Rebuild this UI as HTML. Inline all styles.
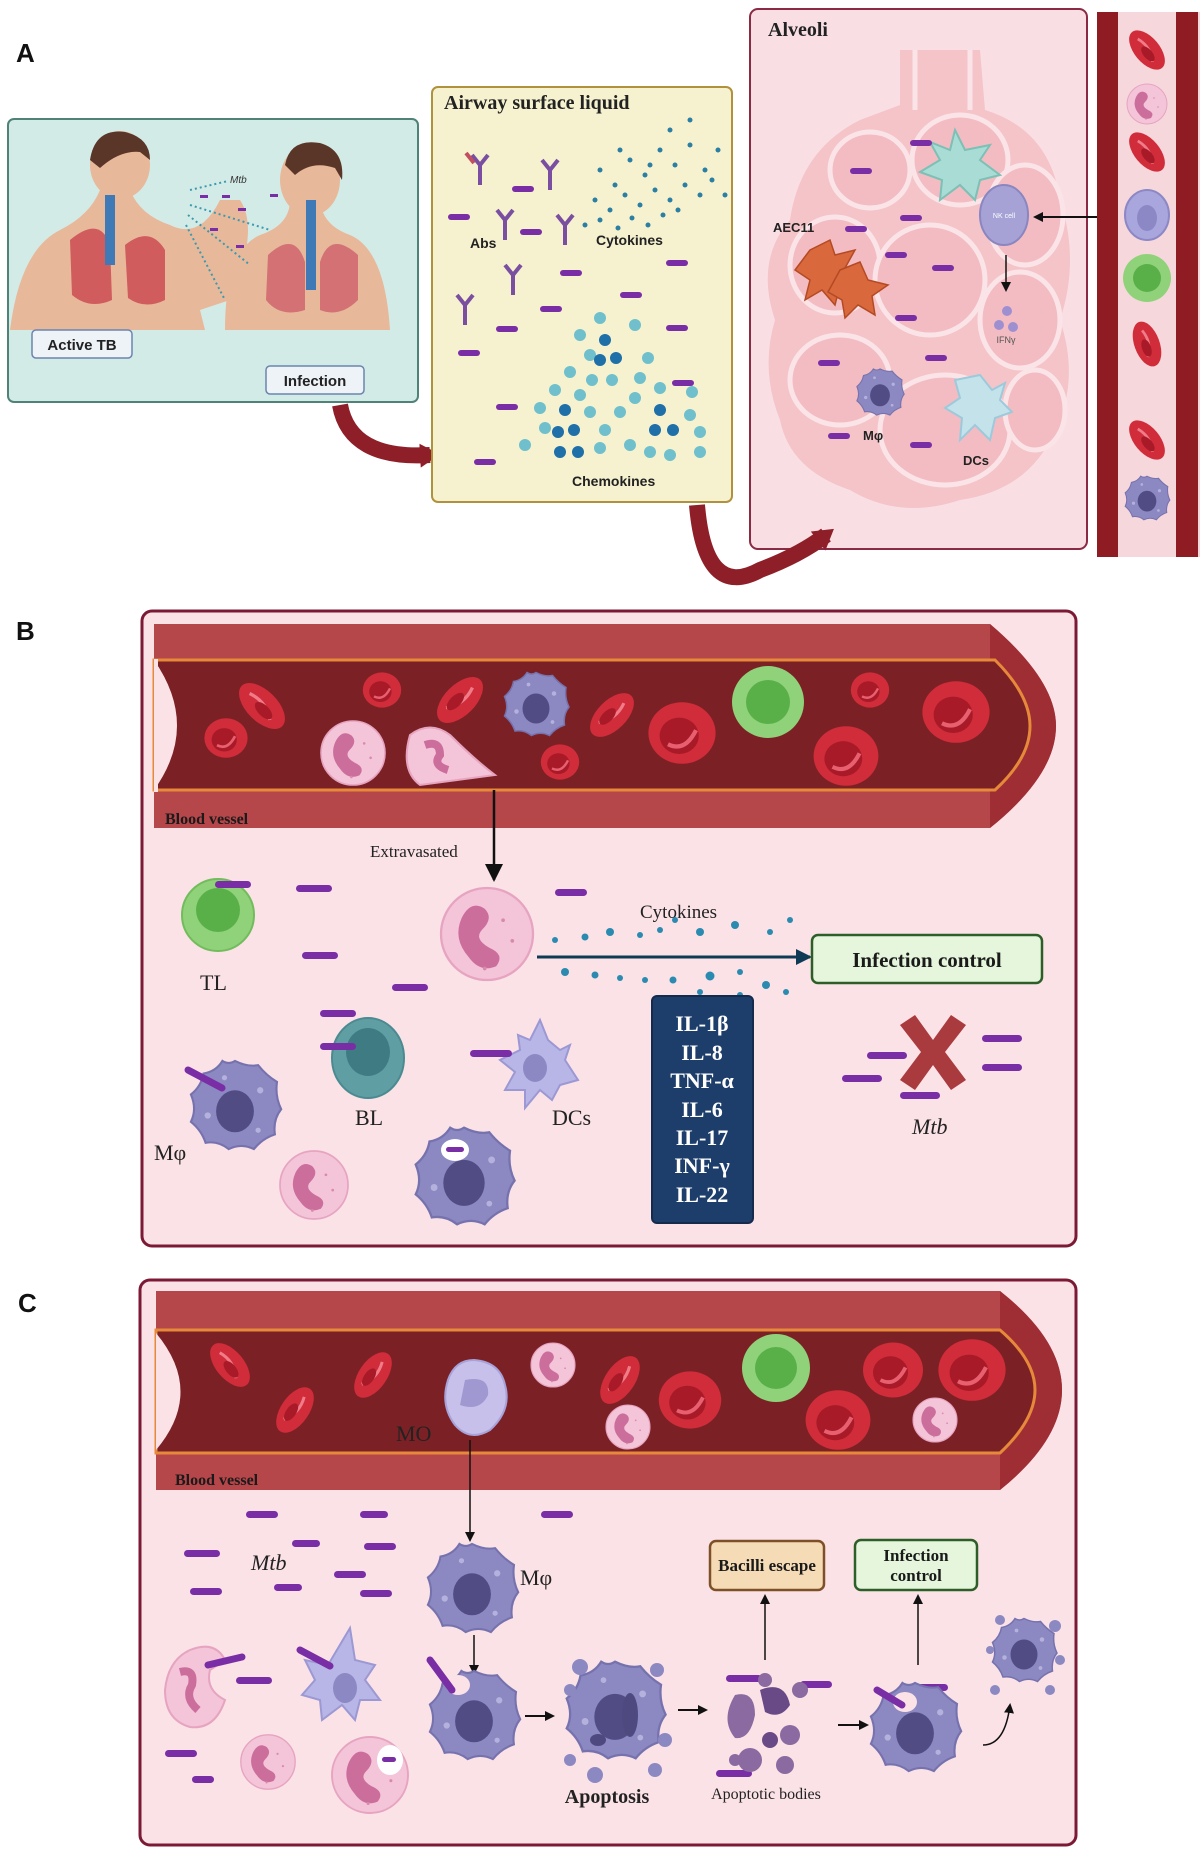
<!DOCTYPE html>
<html><head><meta charset="utf-8"><style>
html,body{margin:0;padding:0;background:#fff;}
svg{display:block;}
.sf{font-family:"Liberation Serif",serif;}
.ss{font-family:"Liberation Sans",sans-serif;}
</style></head><body>
<svg width="1200" height="1855" viewBox="0 0 1200 1855" xmlns="http://www.w3.org/2000/svg">
<defs>
<g id="rbc"><ellipse rx="24" ry="22" fill="#d02c3a"/><ellipse cx="-2" cy="2" rx="14" ry="13" fill="#a91a28"/><path d="M-10,8 Q2,14 10,-2" stroke="#e86070" stroke-width="3" fill="none"/></g>
<g id="rbcs"><ellipse rx="14" ry="26" fill="#d02c3a"/><path d="M-4,14 Q6,0 0,-16" stroke="#ef7c88" stroke-width="3" fill="none"/><ellipse cx="-2" cy="4" rx="5" ry="10" fill="#a91a28"/></g>
<g id="neut"><circle r="40" fill="#f4c4d8" stroke="#e6a4c0" stroke-width="2"/><path d="M-22,-14 Q-14,-30 -2,-22 Q6,-14 -4,-4 Q-12,4 2,12 Q16,18 8,28 Q-6,34 -16,20 Q-30,4 -22,-14Z" fill="#cc6e9c"/><circle cx="14" cy="-12" r="1.6" fill="#d88aaa"/><circle cx="22" cy="6" r="1.6" fill="#d88aaa"/><circle cx="-2" cy="30" r="1.6" fill="#d88aaa"/></g>
<g id="mac"><path d="M0,-42 Q12,-36 22,-38 Q30,-28 40,-22 Q38,-8 44,4 Q36,14 38,28 Q26,32 18,42 Q6,36 -6,42 Q-16,34 -28,36 Q-32,24 -42,16 Q-36,4 -42,-10 Q-32,-18 -30,-30 Q-18,-32 -12,-42 Q-6,-38 0,-42Z" fill="#8c88c2" stroke="#7672ae" stroke-width="2"/><ellipse cx="0" cy="6" rx="18" ry="20" fill="#524c84"/><circle cx="24" cy="-14" r="3" fill="#b4b2dc"/><circle cx="-26" cy="10" r="3" fill="#b4b2dc"/><circle cx="22" cy="24" r="2.5" fill="#b4b2dc"/><circle cx="-10" cy="-26" r="2.5" fill="#b4b2dc"/></g>
<marker id="ah" markerWidth="10" markerHeight="10" refX="8" refY="5" orient="auto" markerUnits="userSpaceOnUse"><path d="M0,0 L10,5 L0,10Z" fill="#111"/></marker>
<marker id="ahb" markerWidth="18" markerHeight="18" refX="16" refY="9" orient="auto" markerUnits="userSpaceOnUse"><path d="M0,0 L18,9 L0,18Z" fill="#111"/></marker>
<marker id="ahn" markerWidth="16" markerHeight="16" refX="14" refY="8" orient="auto" markerUnits="userSpaceOnUse"><path d="M0,0 L16,8 L0,16Z" fill="#0e3a56"/></marker>
<marker id="ahr" markerWidth="24" markerHeight="24" refX="10" refY="12" orient="auto" markerUnits="userSpaceOnUse"><path d="M0,0 L20,12 L0,24Z" fill="#8e1f28"/></marker>
</defs>

<!-- ================= PANEL A ================= -->
<text x="16" y="62" class="ss" font-size="26" font-weight="bold" fill="#111">A</text>

<rect x="8" y="119" width="410" height="283" rx="6" fill="#d3ebe7" stroke="#4f8378" stroke-width="2"/>
<path d="M10,330 Q20,250 60,230 Q90,215 100,190 L130,190 Q140,215 170,225 Q200,240 220,200 L240,200 Q260,230 230,300 L200,310 L205,330Z" fill="#e8b89a"/>
<ellipse cx="120" cy="165" rx="30" ry="34" fill="#e8b89a"/>
<path d="M90,160 Q95,128 125,132 Q150,138 150,160 L140,152 Q120,150 100,168Z" fill="#5a3628"/>
<path d="M70,240 Q100,215 110,245 L112,300 Q90,310 72,295Z" fill="#c9454f" opacity=".8"/>
<path d="M125,245 Q150,225 165,250 L165,300 Q145,310 128,298Z" fill="#c9454f" opacity=".8"/>
<rect x="105" y="195" width="10" height="70" fill="#3f7ab6"/>
<path d="M225,330 Q225,250 260,235 Q290,225 290,200 L320,200 Q322,225 350,235 Q385,250 390,330Z" fill="#e8b89a"/>
<ellipse cx="310" cy="180" rx="30" ry="36" fill="#e8b89a"/>
<path d="M285,165 Q290,138 320,143 Q345,150 342,180 L335,168 Q312,160 295,175Z" fill="#5a3628"/>
<path d="M268,255 Q295,230 305,262 L305,310 Q280,318 266,300Z" fill="#cc5a68" opacity=".75"/>
<path d="M320,262 Q330,230 358,255 L358,300 Q340,318 320,310Z" fill="#cc5a68" opacity=".75"/>
<rect x="306" y="200" width="10" height="90" fill="#3f7ab6"/>
<g stroke="#3b9ab0" stroke-width="2" stroke-dasharray="2 3"><line x1="190" y1="190" x2="228" y2="181"/><line x1="190" y1="205" x2="270" y2="230"/><line x1="188" y1="215" x2="250" y2="265"/><line x1="186" y1="225" x2="225" y2="300"/></g>
<text x="230" y="183" class="ss" font-size="10" font-style="italic" fill="#333">Mtb</text>
<g fill="#7a2ea6"><rect x="200" y="195" width="8" height="3"/><rect x="222" y="195" width="8" height="3"/><rect x="238" y="208" width="8" height="3"/><rect x="210" y="228" width="8" height="3"/><rect x="236" y="245" width="8" height="3"/><rect x="270" y="194" width="8" height="3"/></g>
<rect x="32" y="330" width="100" height="28" rx="4" fill="#eef3f8" stroke="#6b84b0" stroke-width="1.5"/>
<text x="82" y="350" class="ss" font-size="15" font-weight="bold" text-anchor="middle" fill="#222">Active TB</text>
<rect x="266" y="366" width="98" height="28" rx="4" fill="#eef3f8" stroke="#6b84b0" stroke-width="1.5"/>
<text x="315" y="386" class="ss" font-size="15" font-weight="bold" text-anchor="middle" fill="#222">Infection</text>

<path d="M340,405 Q350,460 430,455" stroke="#8e1f28" stroke-width="16" fill="none" marker-end="url(#ahr)"/>

<rect x="432" y="87" width="300" height="415" rx="6" fill="#f6f2d0" stroke="#b0913c" stroke-width="2"/>
<text x="444" y="109" class="sf" font-size="20" font-weight="bold" fill="#222">Airway surface liquid</text>
<g stroke-width="4" fill="none">
<g transform="translate(480,165)"><path d="M0,0 L0,20 M0,0 L-8,-10 M0,0 L8,-10" stroke="#7a4ea0"/><path d="M-14,-12 L-6,-2" stroke="#c05060"/></g>
<g transform="translate(550,170)"><path d="M0,0 L0,20 M0,0 L-8,-10 M0,0 L8,-10" stroke="#7a4ea0"/></g>
<g transform="translate(505,220)"><path d="M0,0 L0,20 M0,0 L-8,-10 M0,0 L8,-10" stroke="#7a4ea0"/></g>
<g transform="translate(565,225)"><path d="M0,0 L0,20 M0,0 L-8,-10 M0,0 L8,-10" stroke="#7a4ea0"/></g>
<g transform="translate(513,275)"><path d="M0,0 L0,20 M0,0 L-8,-10 M0,0 L8,-10" stroke="#7a4ea0"/></g>
<g transform="translate(465,305)"><path d="M0,0 L0,20 M0,0 L-8,-10 M0,0 L8,-10" stroke="#7a4ea0"/></g>
</g>
<text x="470" y="248" class="ss" font-size="14" font-weight="bold" fill="#222">Abs</text>
<text x="596" y="245" class="ss" font-size="14" font-weight="bold" fill="#222">Cytokines</text>
<text x="572" y="486" class="ss" font-size="14" font-weight="bold" fill="#222">Chemokines</text>
<g fill="#2b7fa3">
<circle cx="600" cy="170" r="2.5"/><circle cx="615" cy="185" r="2.5"/><circle cx="630" cy="160" r="2.5"/><circle cx="645" cy="175" r="2.5"/><circle cx="660" cy="150" r="2.5"/><circle cx="675" cy="165" r="2.5"/><circle cx="690" cy="145" r="2.5"/><circle cx="705" cy="170" r="2.5"/><circle cx="718" cy="150" r="2.5"/>
<circle cx="595" cy="200" r="2.5"/><circle cx="610" cy="210" r="2.5"/><circle cx="625" cy="195" r="2.5"/><circle cx="640" cy="205" r="2.5"/><circle cx="655" cy="190" r="2.5"/><circle cx="670" cy="200" r="2.5"/><circle cx="685" cy="185" r="2.5"/><circle cx="700" cy="195" r="2.5"/><circle cx="712" cy="180" r="2.5"/><circle cx="725" cy="195" r="2.5"/>
<circle cx="585" cy="225" r="2.5"/><circle cx="600" cy="220" r="2.5"/><circle cx="618" cy="228" r="2.5"/><circle cx="632" cy="218" r="2.5"/><circle cx="648" cy="225" r="2.5"/><circle cx="663" cy="215" r="2.5"/><circle cx="678" cy="210" r="2.5"/><circle cx="650" cy="165" r="2.5"/><circle cx="620" cy="150" r="2.5"/><circle cx="690" cy="120" r="2.5"/><circle cx="670" cy="130" r="2.5"/>
</g>
<g>
<circle cx="600" cy="318" r="6" fill="#6fc0cc"/><circle cx="635" cy="325" r="6" fill="#6fc0cc"/><circle cx="580" cy="335" r="6" fill="#6fc0cc"/><circle cx="605" cy="340" r="6" fill="#1f6fa8"/><circle cx="590" cy="355" r="6" fill="#6fc0cc"/><circle cx="600" cy="360" r="6" fill="#1f6fa8"/><circle cx="616" cy="358" r="6" fill="#1f6fa8"/><circle cx="648" cy="358" r="6" fill="#6fc0cc"/>
<circle cx="570" cy="372" r="6" fill="#6fc0cc"/><circle cx="592" cy="380" r="6" fill="#6fc0cc"/><circle cx="612" cy="380" r="6" fill="#6fc0cc"/><circle cx="640" cy="378" r="6" fill="#6fc0cc"/><circle cx="660" cy="388" r="6" fill="#6fc0cc"/><circle cx="555" cy="390" r="6" fill="#6fc0cc"/><circle cx="580" cy="395" r="6" fill="#6fc0cc"/><circle cx="635" cy="398" r="6" fill="#6fc0cc"/><circle cx="692" cy="392" r="6" fill="#6fc0cc"/>
<circle cx="540" cy="408" r="6" fill="#6fc0cc"/><circle cx="565" cy="410" r="6" fill="#1f6fa8"/><circle cx="590" cy="412" r="6" fill="#6fc0cc"/><circle cx="620" cy="412" r="6" fill="#6fc0cc"/><circle cx="660" cy="410" r="6" fill="#1f6fa8"/><circle cx="690" cy="415" r="6" fill="#6fc0cc"/><circle cx="545" cy="428" r="6" fill="#6fc0cc"/>
<circle cx="558" cy="432" r="6" fill="#1f6fa8"/><circle cx="574" cy="430" r="6" fill="#1f6fa8"/><circle cx="605" cy="430" r="6" fill="#6fc0cc"/><circle cx="655" cy="430" r="6" fill="#1f6fa8"/><circle cx="673" cy="430" r="6" fill="#1f6fa8"/><circle cx="700" cy="432" r="6" fill="#6fc0cc"/><circle cx="525" cy="445" r="6" fill="#6fc0cc"/><circle cx="560" cy="452" r="6" fill="#1f6fa8"/><circle cx="578" cy="452" r="6" fill="#1f6fa8"/><circle cx="600" cy="448" r="6" fill="#6fc0cc"/><circle cx="630" cy="445" r="6" fill="#6fc0cc"/><circle cx="650" cy="452" r="6" fill="#6fc0cc"/><circle cx="670" cy="455" r="6" fill="#6fc0cc"/><circle cx="700" cy="452" r="6" fill="#6fc0cc"/>
</g>
<g fill="#7a2ea6"><rect x="512" y="186" width="22" height="6" rx="3"/><rect x="448" y="214" width="22" height="6" rx="3"/><rect x="520" y="229" width="22" height="6" rx="3"/><rect x="666" y="260" width="22" height="6" rx="3"/><rect x="560" y="270" width="22" height="6" rx="3"/><rect x="620" y="292" width="22" height="6" rx="3"/><rect x="540" y="306" width="22" height="6" rx="3"/><rect x="496" y="326" width="22" height="6" rx="3"/><rect x="666" y="325" width="22" height="6" rx="3"/><rect x="458" y="350" width="22" height="6" rx="3"/><rect x="672" y="380" width="22" height="6" rx="3"/><rect x="496" y="404" width="22" height="6" rx="3"/><rect x="474" y="459" width="22" height="6" rx="3"/></g>

<!-- alveoli box -->
<rect x="750" y="9" width="337" height="540" rx="8" fill="#f9dfe4" stroke="#8a2a45" stroke-width="2"/>
<text x="768" y="36" class="sf" font-size="20" font-weight="bold" fill="#222">Alveoli</text>
<g fill="#f4c4c8">
<path d="M900,50 L980,50 L985,110 Q1050,130 1060,200 Q1080,260 1060,320 Q1080,380 1055,430 Q1030,490 960,500 Q900,520 850,490 Q790,470 780,420 Q760,370 775,320 Q755,260 790,220 Q800,150 860,120 L900,105Z"/>
</g>
<g fill="#f2bcc2" stroke="#fbe4e7" stroke-width="5">
<ellipse cx="870" cy="170" rx="40" ry="38"/><ellipse cx="960" cy="160" rx="48" ry="45"/><ellipse cx="1025" cy="215" rx="38" ry="50"/>
<ellipse cx="835" cy="265" rx="45" ry="48"/><ellipse cx="930" cy="280" rx="55" ry="55"/><ellipse cx="1020" cy="320" rx="40" ry="48"/>
<ellipse cx="840" cy="380" rx="50" ry="45"/><ellipse cx="945" cy="430" rx="65" ry="55"/><ellipse cx="1035" cy="410" rx="30" ry="40"/>
</g>
<g fill="none" stroke="#fbe4e7" stroke-width="5"><path d="M915,50 L915,110 M970,50 L970,110"/></g>
<g fill="#d9683c" stroke="#b44a24" stroke-width="1.5">
<path d="M810,250 L830,240 L835,255 L855,250 L845,268 L860,285 L840,285 L835,305 L822,290 L805,300 L810,280 L795,270Z"/>
<path d="M840,270 L860,262 L868,280 L888,285 L872,296 L875,315 L858,305 L845,318 L842,300 L828,292Z"/>
</g>
<text x="773" y="232" class="ss" font-size="13" font-weight="bold" fill="#222">AEC11</text>
<path d="M955,130 L965,150 L990,145 L980,160 L1000,175 L980,180 L975,200 L960,185 L940,200 L942,180 L920,172 L940,160 L930,142 L950,150Z" fill="#a8dcd4" stroke="#7cc0b6" stroke-width="2"/>
<ellipse cx="1004" cy="215" rx="24" ry="30" fill="#a6a2d6" stroke="#8a86c0" stroke-width="2"/>
<text x="1004" y="218" class="ss" font-size="7" fill="#fff" text-anchor="middle">NK cell</text>
<line x1="1097" y1="217" x2="1035" y2="217" stroke="#111" stroke-width="2" marker-end="url(#ah)"/>
<line x1="1006" y1="255" x2="1006" y2="290" stroke="#111" stroke-width="1.5" marker-end="url(#ah)"/>
<g fill="#9e90d0"><circle cx="1007" cy="311" r="5"/><circle cx="999" cy="325" r="5"/><circle cx="1013" cy="327" r="5"/></g>
<text x="1006" y="343" class="ss" font-size="9" fill="#555" text-anchor="middle">IFNγ</text>
<use href="#mac" transform="translate(880,392) scale(0.55)"/>
<text x="863" y="440" class="ss" font-size="13" font-weight="bold" fill="#222">Mφ</text>
<path d="M980,375 L992,390 L1005,383 L1000,400 L1012,412 L995,418 L990,440 L975,425 L960,440 L962,418 L945,408 L960,398 L955,380Z" fill="#c4e2ea" stroke="#9ccadc" stroke-width="2"/>
<text x="963" y="465" class="ss" font-size="13" font-weight="bold" fill="#222">DCs</text>
<g fill="#7a2ea6"><rect x="910" y="140" width="22" height="6" rx="3"/><rect x="850" y="168" width="22" height="6" rx="3"/><rect x="900" y="215" width="22" height="6" rx="3"/><rect x="845" y="226" width="22" height="6" rx="3"/><rect x="885" y="252" width="22" height="6" rx="3"/><rect x="932" y="265" width="22" height="6" rx="3"/><rect x="895" y="315" width="22" height="6" rx="3"/><rect x="925" y="355" width="22" height="6" rx="3"/><rect x="818" y="360" width="22" height="6" rx="3"/><rect x="828" y="433" width="22" height="6" rx="3"/><rect x="910" y="442" width="22" height="6" rx="3"/></g>

<!-- curved arrow 2 (drawn on top) -->
<path d="M697,505 Q705,600 760,570 Q800,555 826,535" stroke="#8e1f28" stroke-width="16" fill="none" marker-end="url(#ahr)"/>

<!-- right vessel strip -->
<rect x="1097" y="12" width="103" height="545" fill="#f6d8dc"/>
<rect x="1097" y="12" width="21" height="545" fill="#8e1c22"/>
<rect x="1176" y="12" width="22" height="545" fill="#8e1c22"/>
<use href="#rbcs" transform="translate(1147,50) rotate(-40) scale(0.9)"/>
<use href="#neut" transform="translate(1147,104) scale(0.5)"/>
<use href="#rbcs" transform="translate(1147,152) rotate(-40) scale(0.9)"/>
<ellipse cx="1147" cy="215" rx="22" ry="25" fill="#a8a6dc" stroke="#8c88c6" stroke-width="2"/><ellipse cx="1147" cy="218" rx="10" ry="13" fill="#8c88c6"/>
<circle cx="1147" cy="278" r="24" fill="#8fd27a"/><circle cx="1147" cy="278" r="14" fill="#5ab048"/>
<use href="#rbcs" transform="translate(1147,344) rotate(-20) scale(0.9)"/>
<use href="#rbcs" transform="translate(1147,440) rotate(-40) scale(0.9)"/>
<use href="#mac" transform="translate(1147,498) scale(0.52)"/>

<!-- ================= PANEL B ================= -->
<text x="16" y="640" class="ss" font-size="26" font-weight="bold" fill="#111">B</text>
<rect x="142" y="611" width="934" height="635" rx="10" fill="#fbe2e7" stroke="#7c1a36" stroke-width="3"/>
<path d="M154,624 L990,624 Q1056,680 1056,726 Q1056,775 990,828 L154,828Z" fill="#b5464a"/>
<path d="M990,624 Q1056,680 1056,726 Q1056,775 990,828 Z" fill="#9e2e34"/>
<path d="M154,660 L995,660 Q1030,695 1030,726 Q1030,758 995,790 L154,790Z" fill="#7b2125" stroke="#e6893a" stroke-width="3"/>
<path d="M154,660 Q200,726 154,790Z" fill="#fbe2e7"/>
<rect x="154" y="659" width="4" height="133" fill="#fbe2e7"/>
<text x="165" y="824" class="sf" font-size="16" font-weight="bold" fill="#1a1a1a">Blood vessel</text>
<use href="#rbcs" transform="translate(262,706) rotate(-45) scale(1.1)"/>
<use href="#rbc" transform="translate(226,738) scale(0.9)"/>
<use href="#rbc" transform="translate(382,690) scale(0.8)"/>
<use href="#rbcs" transform="translate(460,700) rotate(45) scale(1.1)"/>
<use href="#neut" transform="translate(353,753) scale(0.8)"/>
<path d="M410,735 Q430,720 450,735 Q475,760 495,775 L420,785 Q400,770 410,735Z" fill="#f4c4d8" stroke="#e6a4c0" stroke-width="2"/><path d="M425,745 Q440,740 440,755 Q432,765 448,770" stroke="#cc6e9c" stroke-width="8" fill="none"/>
<use href="#mac" transform="translate(536,704) scale(0.75)"/>
<use href="#rbcs" transform="translate(612,715) rotate(45) scale(1.05)"/>
<use href="#rbc" transform="translate(560,762) scale(0.8)"/>
<use href="#rbc" transform="translate(682,733) scale(1.4)"/>
<circle cx="768" cy="702" r="36" fill="#8fd27a"/><circle cx="768" cy="702" r="22" fill="#5ab048"/>
<use href="#rbc" transform="translate(846,756) scale(1.35)"/>
<use href="#rbc" transform="translate(870,690) scale(0.8)"/>
<use href="#rbc" transform="translate(956,712) scale(1.4)"/>
<line x1="494" y1="790" x2="494" y2="880" stroke="#111" stroke-width="2.5" marker-end="url(#ahb)"/>
<text x="370" y="857" class="sf" font-size="17" fill="#222">Extravasated</text>
<use href="#neut" transform="translate(487,934) scale(1.15)"/>
<line x1="537" y1="957" x2="810" y2="957" stroke="#0e3a56" stroke-width="3" marker-end="url(#ahn)"/>
<text x="640" y="918" class="sf" font-size="19" fill="#222">Cytokines</text>
<g fill="#2b8ab0"><circle cx="555" cy="940" r="3"/><circle cx="585" cy="937" r="3.5"/><circle cx="610" cy="932" r="4"/><circle cx="640" cy="935" r="3"/><circle cx="660" cy="930" r="3"/><circle cx="675" cy="920" r="3"/><circle cx="700" cy="932" r="4"/><circle cx="735" cy="925" r="4"/><circle cx="770" cy="932" r="3"/><circle cx="790" cy="920" r="3"/>
<circle cx="565" cy="972" r="4"/><circle cx="595" cy="975" r="3.5"/><circle cx="620" cy="978" r="3"/><circle cx="645" cy="980" r="3"/><circle cx="673" cy="980" r="3.5"/><circle cx="710" cy="976" r="4.5"/><circle cx="740" cy="972" r="3"/><circle cx="766" cy="985" r="4"/><circle cx="786" cy="992" r="3"/><circle cx="700" cy="992" r="3"/><circle cx="740" cy="995" r="3"/></g>
<rect x="812" y="935" width="230" height="48" rx="6" fill="#e5f6dc" stroke="#2e5e28" stroke-width="2.5"/>
<text x="927" y="967" class="sf" font-size="21" font-weight="bold" text-anchor="middle" fill="#1a1a1a">Infection control</text>
<rect x="652" y="996" width="101" height="227" rx="5" fill="#1d3d6b" stroke="#142b4e" stroke-width="2"/>
<g class="sf" font-size="22" font-weight="bold" fill="#fff" text-anchor="middle">
<text x="702" y="1031">IL-1β</text><text x="702" y="1060">IL-8</text><text x="702" y="1088">TNF-α</text><text x="702" y="1117">IL-6</text><text x="702" y="1145">IL-17</text><text x="702" y="1173">INF-γ</text><text x="702" y="1202">IL-22</text></g>
<path d="M900,1025 L915,1015 L933,1040 L951,1015 L966,1025 L945,1052 L966,1080 L951,1090 L933,1065 L915,1090 L900,1080 L921,1052Z" fill="#a93a3e"/>
<g fill="#7a2ea6"><rect x="982" y="1035" width="40" height="7" rx="3.5"/><rect x="867" y="1052" width="40" height="7" rx="3.5"/><rect x="982" y="1064" width="40" height="7" rx="3.5"/><rect x="842" y="1075" width="40" height="7" rx="3.5"/><rect x="900" y="1092" width="40" height="7" rx="3.5"/></g>
<text x="912" y="1134" class="sf" font-size="22" font-style="italic" fill="#222">Mtb</text>
<circle cx="218" cy="915" r="36" fill="#8fd27a" stroke="#72bc5c" stroke-width="2"/><circle cx="218" cy="910" r="22" fill="#5ab048"/>
<text x="200" y="990" class="sf" font-size="22" fill="#222">TL</text>
<ellipse cx="368" cy="1058" rx="36" ry="40" fill="#5f9fa4" stroke="#4b8a90" stroke-width="2"/><ellipse cx="368" cy="1052" rx="22" ry="24" fill="#3f7b82"/>
<text x="355" y="1125" class="sf" font-size="22" fill="#222">BL</text>
<path d="M540,1020 L548,1040 L560,1050 L570,1045 L565,1060 L578,1080 L560,1085 L552,1100 L540,1090 L525,1108 L525,1090 L505,1090 L515,1072 L500,1060 L520,1050 L518,1035 L530,1040Z" fill="#b8b6e6" stroke="#9c98d4" stroke-width="2"/><ellipse cx="535" cy="1068" rx="12" ry="14" fill="#8c88c4"/>
<text x="552" y="1125" class="sf" font-size="22" fill="#222">DCs</text>
<use href="#mac" transform="translate(235,1105) scale(1.05)"/>
<path d="M188,1070 L222,1088" stroke="#7a2ea6" stroke-width="7" stroke-linecap="round"/>
<text x="154" y="1160" class="sf" font-size="22" fill="#222">Mφ</text>
<use href="#neut" transform="translate(314,1185) scale(0.85)"/>
<use href="#mac" transform="translate(464,1176) scale(1.15)"/>
<ellipse cx="455" cy="1150" rx="14" ry="11" fill="#fff"/><rect x="446" y="1147" width="18" height="5" rx="2.5" fill="#7a2ea6"/>
<g fill="#7a2ea6"><rect x="215" y="881" width="36" height="7" rx="3.5"/><rect x="302" y="952" width="36" height="7" rx="3.5"/><rect x="320" y="1043" width="36" height="7" rx="3.5"/><rect x="392" y="984" width="36" height="7" rx="3.5"/><rect x="470" y="1050" width="42" height="7" rx="3.5"/><rect x="296" y="885" width="36" height="7" rx="3.5"/><rect x="555" y="889" width="32" height="7" rx="3.5"/><rect x="320" y="1010" width="36" height="7" rx="3.5"/></g>

<!-- ================= PANEL C ================= -->
<text x="18" y="1312" class="ss" font-size="26" font-weight="bold" fill="#111">C</text>
<rect x="140" y="1280" width="936" height="565" rx="10" fill="#fbe2e7" stroke="#7c1a36" stroke-width="3"/>
<path d="M156,1291 L1000,1291 Q1062,1340 1062,1390 Q1062,1440 1000,1490 L156,1490Z" fill="#b5464a"/>
<path d="M1000,1291 Q1062,1340 1062,1390 Q1062,1440 1000,1490 Z" fill="#9e2e34"/>
<path d="M156,1330 L1000,1330 Q1035,1360 1035,1390 Q1035,1420 1000,1453 L156,1453Z" fill="#7b2125" stroke="#e6893a" stroke-width="3"/>
<path d="M156,1333 Q205,1392 156,1450Z" fill="#fbe2e7"/>
<text x="175" y="1485" class="sf" font-size="16" font-weight="bold" fill="#1a1a1a">Blood vessel</text>
<use href="#rbcs" transform="translate(230,1365) rotate(-40) scale(1.0)"/>
<use href="#rbcs" transform="translate(295,1410) rotate(35) scale(1.0)"/>
<use href="#rbcs" transform="translate(373,1375) rotate(35) scale(1.0)"/>
<path d="M474,1360 Q500,1362 505,1385 Q512,1410 490,1430 Q470,1442 455,1425 Q440,1405 448,1380 Q455,1360 474,1360Z" fill="#c6c0ea" stroke="#a8a2da" stroke-width="2"/><path d="M465,1380 Q490,1375 488,1395 Q480,1412 460,1405" fill="#a098d0"/>
<text x="396" y="1441" class="sf" font-size="22" fill="#222">MO</text>
<use href="#neut" transform="translate(553,1365) scale(0.55)"/>
<use href="#rbcs" transform="translate(620,1380) rotate(35) scale(1.05)"/>
<use href="#neut" transform="translate(628,1427) scale(0.55)"/>
<use href="#rbc" transform="translate(690,1400) scale(1.3)"/>
<circle cx="776" cy="1368" r="34" fill="#8fd27a"/><circle cx="776" cy="1368" r="21" fill="#5ab048"/>
<use href="#rbc" transform="translate(838,1420) scale(1.35)"/>
<use href="#rbc" transform="translate(893,1370) scale(1.25)"/>
<use href="#rbc" transform="translate(972,1370) scale(1.4)"/>
<use href="#neut" transform="translate(935,1420) scale(0.55)"/>
<line x1="470" y1="1440" x2="470" y2="1540" stroke="#111" stroke-width="1.5" marker-end="url(#ah)"/>
<use href="#mac" transform="translate(472,1588) scale(1.05)"/>
<text x="520" y="1585" class="sf" font-size="22" fill="#222">Mφ</text>
<line x1="474" y1="1635" x2="474" y2="1673" stroke="#111" stroke-width="1.5" marker-end="url(#ah)"/>
<text x="251" y="1570" class="sf" font-size="22" font-style="italic" fill="#222">Mtb</text>
<g fill="#7a2ea6">
<rect x="246" y="1511" width="32" height="7" rx="3.5"/><rect x="360" y="1511" width="28" height="7" rx="3.5"/><rect x="541" y="1511" width="32" height="7" rx="3.5"/>
<rect x="292" y="1540" width="28" height="7" rx="3.5"/><rect x="364" y="1543" width="32" height="7" rx="3.5"/><rect x="184" y="1550" width="36" height="7" rx="3.5"/>
<rect x="334" y="1571" width="32" height="7" rx="3.5"/><rect x="190" y="1588" width="32" height="7" rx="3.5"/><rect x="274" y="1584" width="28" height="7" rx="3.5"/><rect x="360" y="1590" width="32" height="7" rx="3.5"/>
<rect x="236" y="1677" width="36" height="7" rx="3.5"/><rect x="165" y="1750" width="32" height="7" rx="3.5"/><rect x="192" y="1776" width="22" height="7" rx="3.5"/>
<rect x="726" y="1675" width="36" height="7" rx="3.5"/><rect x="800" y="1681" width="32" height="7" rx="3.5"/><rect x="716" y="1770" width="36" height="7" rx="3.5"/><rect x="912" y="1684" width="36" height="7" rx="3.5"/>
</g>
<path d="M190,1650 Q215,1640 225,1660 L210,1670 Q205,1690 225,1700 Q215,1730 190,1727 Q165,1720 165,1690 Q168,1660 190,1650Z" fill="#f4c4d8" stroke="#e6a4c0" stroke-width="2"/><path d="M180,1672 Q195,1668 192,1685 Q184,1698 198,1710" stroke="#cc6e9c" stroke-width="8" fill="none"/>
<path d="M208,1665 L242,1657" stroke="#7a2ea6" stroke-width="7" stroke-linecap="round"/>
<path d="M350,1628 L355,1660 L375,1665 L365,1680 L380,1700 L360,1700 L355,1720 L342,1705 L322,1720 L320,1700 L302,1695 L315,1680 L305,1660 L328,1665Z" fill="#b8b6e6" stroke="#9c98d4" stroke-width="2"/><ellipse cx="345" cy="1688" rx="12" ry="15" fill="#8c88c4"/>
<path d="M300,1650 L330,1666" stroke="#7a2ea6" stroke-width="7" stroke-linecap="round"/>
<use href="#neut" transform="translate(268,1762) scale(0.68)"/>
<use href="#neut" transform="translate(370,1775) scale(0.95)"/>
<ellipse cx="390" cy="1760" rx="13" ry="15" fill="#fff"/><rect x="382" y="1757" width="14" height="5" rx="2.5" fill="#7a2ea6"/>
<use href="#mac" transform="translate(474,1715) scale(1.05)"/>
<ellipse cx="458" cy="1685" rx="12" ry="10" fill="#fbe2e7"/>
<path d="M430,1660 L452,1690" stroke="#7a2ea6" stroke-width="7" stroke-linecap="round"/>
<line x1="525" y1="1716" x2="553" y2="1716" stroke="#111" stroke-width="2" marker-end="url(#ah)"/>
<use href="#mac" transform="translate(615,1710) scale(1.15)"/>
<g fill="#8c88c2"><circle cx="580" cy="1667" r="8"/><circle cx="657" cy="1670" r="7"/><circle cx="570" cy="1690" r="6"/><circle cx="665" cy="1740" r="7"/><circle cx="570" cy="1760" r="6"/><circle cx="595" cy="1775" r="8"/><circle cx="655" cy="1770" r="7"/></g>
<ellipse cx="630" cy="1715" rx="8" ry="22" fill="#4e4a80"/><ellipse cx="598" cy="1740" rx="8" ry="6" fill="#4e4a80"/>
<text x="607" y="1803" class="sf" font-size="20" font-weight="bold" fill="#222" text-anchor="middle">Apoptosis</text>
<line x1="678" y1="1710" x2="706" y2="1710" stroke="#111" stroke-width="2" marker-end="url(#ah)"/>
<g fill="#8a6aa0"><path d="M735,1695 Q755,1690 755,1715 Q750,1740 735,1738 Q720,1720 735,1695Z"/><path d="M760,1690 Q785,1680 790,1705 Q780,1720 765,1712Z" fill="#6a4a86"/><circle cx="790" cy="1735" r="10"/><circle cx="750" cy="1760" r="12"/><circle cx="785" cy="1765" r="9"/><circle cx="800" cy="1690" r="8"/><circle cx="765" cy="1680" r="7"/><circle cx="770" cy="1740" r="8" fill="#6a4a86"/><circle cx="735" cy="1760" r="6"/></g>
<text x="766" y="1799" class="sf" font-size="16" text-anchor="middle" fill="#222">Apoptotic bodies</text>
<line x1="765" y1="1660" x2="765" y2="1596" stroke="#111" stroke-width="1.5" marker-end="url(#ah)"/>
<rect x="710" y="1541" width="114" height="49" rx="6" fill="#f6dcb6" stroke="#7d5028" stroke-width="2.5"/>
<text x="767" y="1571" class="sf" font-size="17" font-weight="bold" text-anchor="middle" fill="#1a1a1a">Bacilli escape</text>
<line x1="838" y1="1725" x2="867" y2="1725" stroke="#111" stroke-width="2" marker-end="url(#ah)"/>
<use href="#mac" transform="translate(915,1727) scale(1.05)"/>
<ellipse cx="905" cy="1702" rx="12" ry="10" fill="#fbe2e7"/>
<path d="M877,1690 L902,1705" stroke="#7a2ea6" stroke-width="7" stroke-linecap="round"/>
<line x1="918" y1="1665" x2="918" y2="1596" stroke="#111" stroke-width="1.5" marker-end="url(#ah)"/>
<rect x="855" y="1540" width="122" height="50" rx="6" fill="#e5f6dc" stroke="#2e5e28" stroke-width="2.5"/>
<text x="916" y="1561" class="sf" font-size="17" font-weight="bold" text-anchor="middle" fill="#1a1a1a">Infection</text>
<text x="916" y="1581" class="sf" font-size="17" font-weight="bold" text-anchor="middle" fill="#1a1a1a">control</text>
<path d="M983,1745 Q1005,1745 1010,1705" stroke="#111" stroke-width="1.5" fill="none" marker-end="url(#ah)"/>
<use href="#mac" transform="translate(1024,1650) scale(0.75)"/>
<g fill="#8c88c2"><circle cx="1000" cy="1620" r="5"/><circle cx="1055" cy="1626" r="6"/><circle cx="1060" cy="1660" r="5"/><circle cx="995" cy="1690" r="5"/><circle cx="1050" cy="1690" r="5"/><circle cx="990" cy="1650" r="4"/></g>
</svg>
</body></html>
